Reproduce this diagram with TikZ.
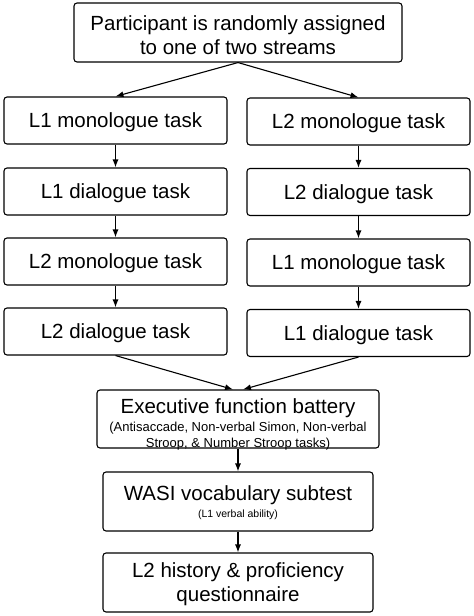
\documentclass[tikz,border=0pt]{standalone}
\usepackage{fontspec}
\setmainfont{Liberation Sans}
\usetikzlibrary{arrows.meta}
\newcommand{\bigtxt}{\fontsize{20.5}{24}\selectfont}
\newcommand{\smalltxt}{\fontsize{13}{16}\selectfont}
\newcommand{\tinytxt}{\fontsize{10.5}{12}\selectfont}
\newcommand{\nodepth}[1]{\raisebox{0pt}[\height][0pt]{#1}}
\begin{document}
\begin{tikzpicture}[x=1pt,y=-1pt,line width=1.1pt,
    arr/.style={-{Latex[length=8pt,width=6pt]}}]
  \useasboundingbox (0,0) rectangle (474,616);
  \begin{scope}[every node/.style={draw,rounded corners=3pt,fill=white,align=center,
      inner sep=0pt,text depth=0pt,minimum width=223pt,minimum height=47pt,font=\bigtxt}]
    \node[minimum width=328pt,minimum height=59pt] (A) at (238,32.5)
      {\rule{0pt}{19pt}Participant is randomly assigned\\to one of two streams};
    \node (B1) at (115.5,120.5) {L1 monologue task};
    \node (B2) at (115.5,191.5) {L1 dialogue task};
    \node (B3) at (115.5,261.5) {L2 monologue task};
    \node (B4) at (115.5,331.5) {L2 dialogue task};
    \node (C1) at (358.5,121.5) {L2 monologue task};
    \node (C2) at (358.5,192) {L2 dialogue task};
    \node (C3) at (358.5,262.5) {L1 monologue task};
    \node (C4) at (358.5,333) {L1 dialogue task};
    \node[minimum width=282pt,minimum height=58pt,font=\smalltxt] (D) at (238,419)
      {{\bigtxt\rule{0pt}{23pt}Executive function battery}\\[2pt]
       (Antisaccade, Non-verbal Simon, Non-verbal\\
       \nodepth{Stroop, \& Number Stroop tasks)}};
    \node[minimum width=270pt,minimum height=59pt,font=\tinytxt] (E) at (238,501.5)
      {{\bigtxt WASI vocabulary subtest}\\[5.7pt]\nodepth{(L1 verbal ability)}};
    \node[minimum width=270pt,minimum height=59pt] (F) at (238,582.5)
      {L2 history \& proficiency\\\nodepth{questionnaire}};
  \end{scope}

  \draw[arr] (A.south) -- (B1.north);
  \draw[arr] (A.south) -- (C1.north);
  \draw[arr] (B1) -- (B2);
  \draw[arr] (B2) -- (B3);
  \draw[arr] (B3) -- (B4);
  \draw[arr] (C1) -- (C2);
  \draw[arr] (C2) -- (C3);
  \draw[arr] (C3) -- (C4);
  \draw[arr] (B4.south) -- ([xshift=-5pt]D.north);
  \draw[arr] (C4.south) -- ([xshift=5pt]D.north);
  \draw[arr] (D) -- (E);
  \draw[arr] (E) -- (F);
\end{tikzpicture}
\end{document}
